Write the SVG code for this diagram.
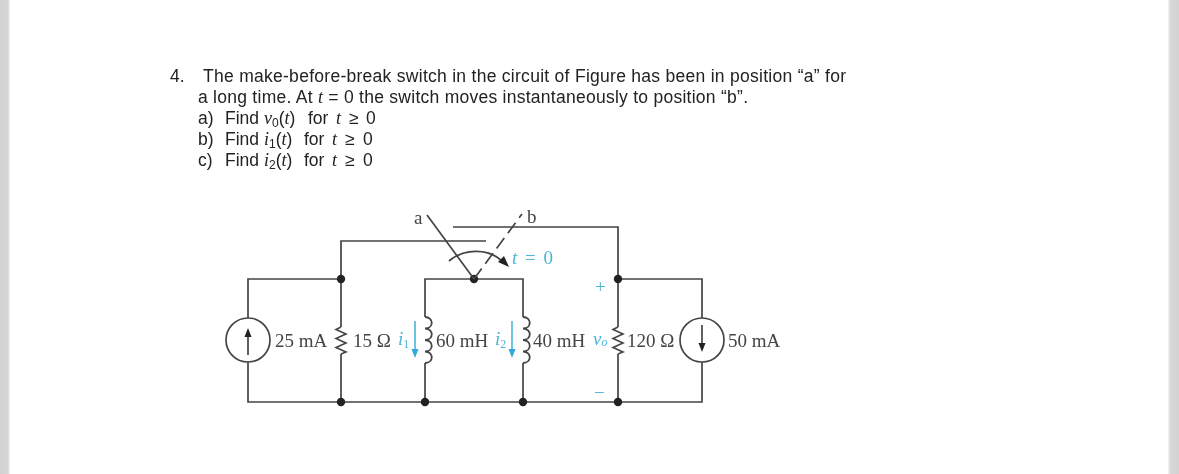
<svg xmlns="http://www.w3.org/2000/svg" width="1179" height="474" viewBox="0 0 1179 474">
<style>
.q{font-family:"Liberation Sans",Arial,sans-serif;font-size:17.5px;fill:#222}
.m{font-family:"Liberation Serif","Times New Roman",serif;font-size:18px;font-style:italic;fill:#222}
.c{font-family:"Liberation Serif","Times New Roman",serif;font-size:19px;fill:#444}
.b{font-family:"Liberation Serif","Times New Roman",serif;font-size:19px;fill:#4fb4d8}
.i{font-style:italic}
.w{fill:none;stroke:#444;stroke-width:1.7}
.s{fill:#fff;stroke:#444;stroke-width:1.7}
.d{fill:#222}
.u{fill:none;stroke:#30a8dc;stroke-width:1.4}
.ua{fill:#30a8dc}
.k{fill:#222}
</style>
<defs>
<linearGradient id="lg" x1="0" x2="1" y1="0" y2="0"><stop offset="0" stop-color="#d2d2d2"/><stop offset="0.75" stop-color="#d6d6d6"/><stop offset="1" stop-color="#f4f4f4"/></linearGradient>
<linearGradient id="rg" x1="0" x2="1" y1="0" y2="0"><stop offset="0" stop-color="#f4f4f4"/><stop offset="0.25" stop-color="#d6d6d6"/><stop offset="1" stop-color="#d2d2d2"/></linearGradient>
<filter id="soft" x="-5%" y="-5%" width="110%" height="110%"><feGaussianBlur stdDeviation="0.45"/></filter>
<path id="coil" d="M0 0c9 0 9 11.500 0 11.500c9 0 9 11.500 0 11.500c9 0 9 11.500 0 11.500c9 0 9 11.500 0 11.500" fill="none" stroke="#444" stroke-width="1.8"/>
<path id="zig" d="M0 0L-5 2.500L5 7L-5 11.500L5 16L-5 20.500L5 25L0 27" fill="none" stroke="#444" stroke-width="1.6"/>
</defs>
<rect width="1179" height="474" fill="#fff"/>
<rect x="0" y="0" width="10" height="474" fill="url(#lg)"/>
<rect x="1168" y="0" width="11" height="474" fill="url(#rg)"/>

<g id="problem-text" filter="url(#soft)">
<text class="q" x="170" y="82">4.</text>
<text class="q" x="203" y="82" textLength="643" lengthAdjust="spacing">The make-before-break switch in the circuit of Figure has been in position “a” for</text>
<text class="q" x="198" y="103" textLength="550" lengthAdjust="spacing">a long time. At <tspan class="m">t</tspan> = 0 the switch moves instantaneously to position “b”.</text>
<text class="q" y="124"><tspan x="198">a)</tspan><tspan x="225">Find</tspan><tspan class="m" x="264">v</tspan><tspan font-size="12" dy="3">0</tspan><tspan dy="-3">(</tspan><tspan class="m">t</tspan>)<tspan x="308">for</tspan><tspan class="m" x="336">t</tspan><tspan x="349">≥</tspan><tspan x="366">0</tspan></text>
<text class="q" y="145"><tspan x="198">b)</tspan><tspan x="225">Find</tspan><tspan class="m" x="264">i</tspan><tspan font-size="12" dy="3">1</tspan><tspan dy="-3">(</tspan><tspan class="m">t</tspan>)<tspan x="304">for</tspan><tspan class="m" x="332">t</tspan><tspan x="345">≥</tspan><tspan x="363">0</tspan></text>
<text class="q" y="166"><tspan x="198">c)</tspan><tspan x="225">Find</tspan><tspan class="m" x="264">i</tspan><tspan font-size="12" dy="3">2</tspan><tspan dy="-3">(</tspan><tspan class="m">t</tspan>)<tspan x="304">for</tspan><tspan class="m" x="332">t</tspan><tspan x="345">≥</tspan><tspan x="363">0</tspan></text>
</g>

<g filter="url(#soft)">
<g id="connectors">
<path class="w" d="M248 318V279H341V327M341 354V402H248V362"/>
<path class="w" d="M341 279V241H486"/>
<path class="w" d="M341 402H702V362"/>
<path class="w" d="M425 402V363M425 317V279H523V317M523 363V402"/>
<path class="w" d="M453 227H618V327M618 354V402"/>
<path class="w" d="M618 279H702V318"/>
</g>

<g id="node-junctions">
<circle class="d" cx="341" cy="279" r="4.200"/>
<circle class="d" cx="341" cy="402" r="4.200"/>
<circle class="d" cx="425" cy="402" r="4.200"/>
<circle class="d" cx="474" cy="279" r="4.200"/>
<circle class="d" cx="523" cy="402" r="4.200"/>
<circle class="d" cx="618" cy="279" r="4.200"/>
<circle class="d" cx="618" cy="402" r="4.200"/>
</g>

<g id="source-25mA">
<circle class="s" cx="248" cy="340" r="22"/>
<path class="w" d="M248 355V332"/>
<path class="k" d="M248 328L251.500 337H244.500Z"/>
<text class="c" x="275" y="347">25 mA</text>
</g>

<g id="resistor-15">
<use href="#zig" x="341" y="327"/>
<text class="c" x="353" y="347">15 Ω</text>
</g>

<g id="inductor-60">
<use href="#coil" x="425" y="317"/>
<text class="c" x="436" y="347">60 mH</text>
</g>

<g id="current-i1">
<text class="b i" x="398" y="345">i<tspan font-size="12" font-style="normal" dy="3">1</tspan></text>
<path class="u" d="M415 321V352"/>
<path class="ua" d="M415 358L411.500 349H418.500Z"/>
</g>

<g id="inductor-40">
<use href="#coil" x="523" y="317"/>
<text class="c" x="533" y="347">40 mH</text>
</g>

<g id="current-i2">
<text class="b i" x="495" y="345">i<tspan font-size="12" font-style="normal" dy="3">2</tspan></text>
<path class="u" d="M512 321V352"/>
<path class="ua" d="M512 358L508.500 349H515.500Z"/>
</g>

<g id="resistor-120">
<use href="#zig" x="618" y="327"/>
<text class="c" x="627" y="347">120 Ω</text>
</g>

<g id="voltage-vo">
<text class="b" x="595" y="293" font-size="20">+</text>
<text class="b i" x="593" y="345">v<tspan font-size="12" dy="1">o</tspan></text>
<text class="b" x="594" y="399" font-size="20">−</text>
</g>

<g id="source-50mA">
<circle class="s" cx="702" cy="340" r="22"/>
<path class="w" d="M702 325V348"/>
<path class="k" d="M702 352L698.500 343H705.500Z"/>
<text class="c" x="728" y="347">50 mA</text>
</g>

<g id="switch">
<path class="w" d="M427 215L474 279"/>
<path class="w" stroke-dasharray="13 6" d="M474 279L522 214"/>
<path class="w" d="M449 261C463 249 488 247 503 262"/>
<path class="k" d="M509 267L498 262L504 256Z"/>
<text class="c" x="414" y="224">a</text>
<text class="c" x="527" y="223">b</text>
<text class="b" x="512" y="264" font-size="21" textLength="41" lengthAdjust="spacing"><tspan class="i">t</tspan> = 0</text>
</g>
</g>
</svg>
